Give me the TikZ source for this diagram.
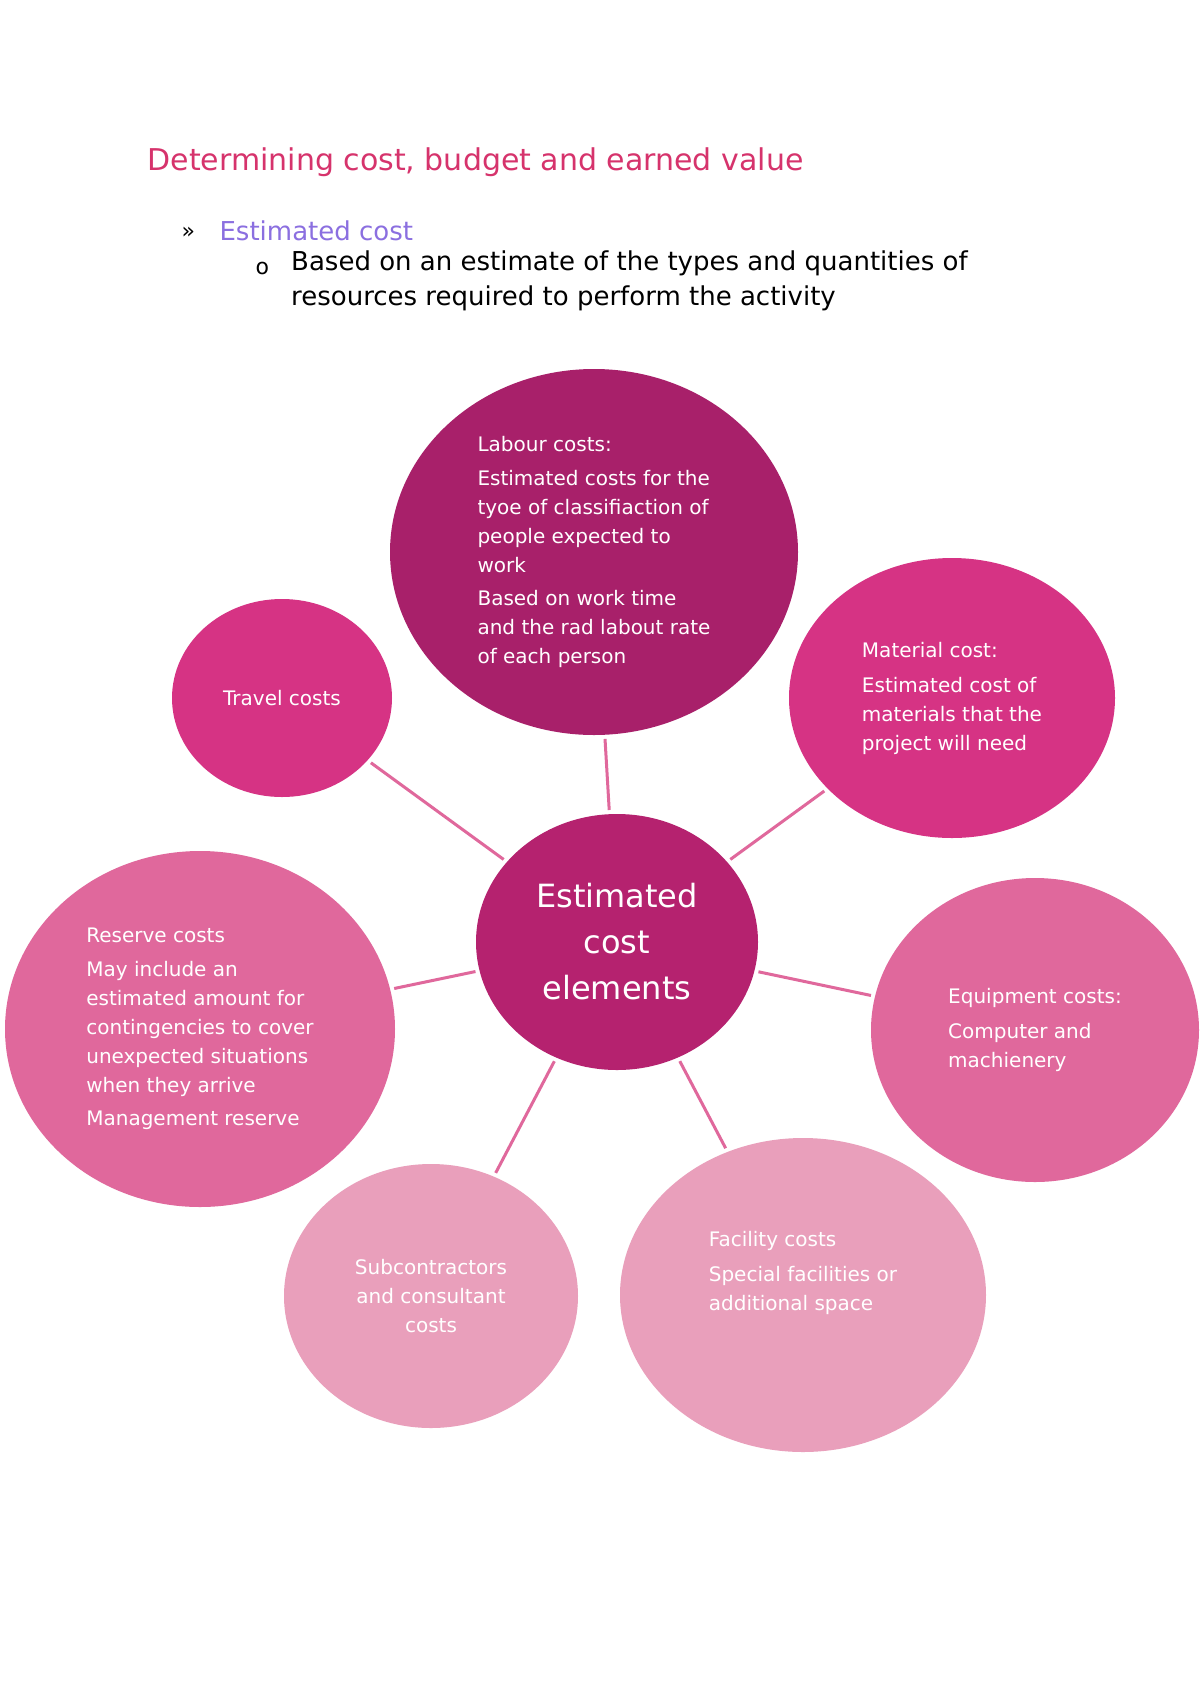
\documentclass[tikz,border=0pt]{standalone}
\usepackage{fontspec}
\setmainfont{DejaVu Sans}
\usetikzlibrary{shapes.geometric}

\definecolor{titlered}{HTML}{D6336C}
\definecolor{subpurple}{HTML}{8B6FE0}
\definecolor{plum}{HTML}{A8206A}
\definecolor{hubpink}{HTML}{B5226F}
\definecolor{hotpink}{HTML}{D63384}
\definecolor{midpink}{HTML}{E0689C}
\definecolor{palepink}{HTML}{E99FBB}

\tikzset{
  bubble/.style={ellipse, draw=none, text=white, inner sep=0pt, align=left,
    font=\fontsize{20}{29}\selectfont},
  spoke/.style={draw=midpink, line width=3pt, shorten <=4pt, shorten >=4pt}
}

\begin{document}
\begin{tikzpicture}[x=1pt,y=-1pt]

  % Page frame
  \useasboundingbox[fill=white] (0,0) rectangle (1200,1698);

  % Heading and bullets
  \node[anchor=west, text=titlered, font=\fontsize{30}{36}\selectfont] (title) at (144,162) {Determining cost, budget and earned value};
  \node[anchor=west, font=\fontsize{22}{26}\selectfont] (bulA) at (178,233) {»};
  \node[anchor=west, text=subpurple, font=\fontsize{26}{32}\selectfont] (sub) at (216,231) {Estimated cost};
  \node[anchor=west, font=\fontsize{22}{26}\selectfont] (bulB) at (252,268) {o};
  \node[anchor=north west, align=left, inner sep=0pt, font=\fontsize{26}{35}\selectfont] (desc) at (291,251)
    {Based on an estimate of the types and quantities of\\resources required to perform the activity};

  % Centre bubble
  \node[bubble, fill=hubpink, minimum width=282, minimum height=256, align=center,
    font=\fontsize{32}{46}\selectfont] (hub) at (617,942) {Estimated\\cost\\elements};

  % Outer bubbles
  \node[bubble, fill=plum, minimum width=408, minimum height=366] (labour) at (594,552)
    {Labour costs:\\[5pt]Estimated costs for the\\tyoe of classifiaction of\\people expected to\\work\\[4pt]Based on work time\\and the rad labout rate\\of each person};
  \node[bubble, fill=hotpink, minimum width=220, minimum height=198] (travel) at (282,698) {Travel costs};
  \node[bubble, fill=hotpink, minimum width=326, minimum height=280] (material) at (952,698)
    {Material cost:\\[6pt]Estimated cost of\\materials that the\\project will need};
  \node[bubble, fill=midpink, minimum width=390, minimum height=356] (reserve) at (200,1029)
    {Reserve costs\\[5pt]May include an\\estimated amount for\\contingencies to cover\\unexpected situations\\when they arrive\\[4pt]Management reserve};
  \node[bubble, fill=midpink, minimum width=328, minimum height=304] (equip) at (1035,1030)
    {Equipment costs:\\[6pt]Computer and\\machienery};
  \node[bubble, fill=palepink, minimum width=294, minimum height=264, align=center] (subcon) at (431,1296)
    {Subcontractors\\and consultant\\costs};
  \node[bubble, fill=palepink, minimum width=366, minimum height=314] (facility) at (803,1295)
    {Facility costs\\[6pt]Special facilities or\\additional space\\[20pt]};

  % Spokes
  \foreach \n in {labour,travel,material,reserve,equip,subcon,facility}
    \draw[spoke] (hub) -- (\n);

\end{tikzpicture}
\end{document}
